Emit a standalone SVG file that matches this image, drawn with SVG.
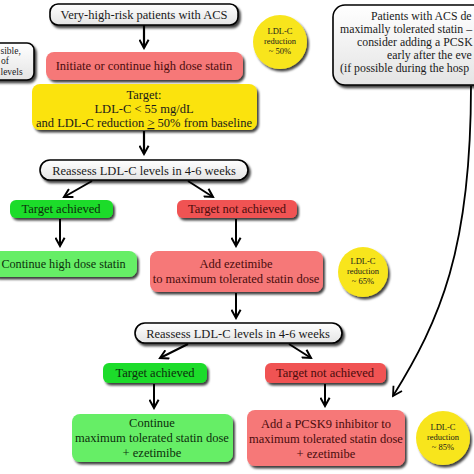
<svg xmlns="http://www.w3.org/2000/svg" width="474" height="474" viewBox="0 0 474 474">
<defs>
<filter id="sh" x="-10%" y="-20%" width="130%" height="160%">
<feDropShadow dx="2" dy="2.5" stdDeviation="1.2" flood-color="#000" flood-opacity="0.75"/>
</filter>
<linearGradient id="gray" x1="0" y1="0" x2="0" y2="1">
<stop offset="0" stop-color="#ffffff"/>
<stop offset="1" stop-color="#e4e4e4"/>
</linearGradient>
<marker id="ah" viewBox="0 0 12 12" refX="10" refY="6" markerWidth="11" markerHeight="11" orient="auto" markerUnits="userSpaceOnUse">
<path d="M1,1 L10,6 L1,11" fill="none" stroke="#000" stroke-width="2.2"/>
</marker>
<marker id="ah2" viewBox="0 0 12 12" refX="10" refY="6" markerWidth="12" markerHeight="12" orient="auto" markerUnits="userSpaceOnUse">
<path d="M1,1 L10,6 L1,11" fill="none" stroke="#000" stroke-width="1.8"/>
</marker>
</defs>
<style>
text{font-family:"Liberation Serif","Times New Roman",serif;font-size:12.5px;text-anchor:middle;fill:#1a1a1a}
.g{fill:url(#gray);stroke:#000;stroke-width:1.6;filter:url(#sh)}
.r{fill:#f67878;filter:url(#sh)}
.rs{fill:#f05252;filter:url(#sh)}
.gs{fill:#1fdc2a;filter:url(#sh)}
.gl{fill:#66ee66;filter:url(#sh)}
.y{fill:#fbe30c;filter:url(#sh)}
.c{fill:#f8e51e;filter:url(#sh)}
.ct{font-size:8.5px}
.rt{fill:#4a0c0c}
.gt{fill:#0c2e0c}
.l{fill:none;stroke:#000;stroke-width:2}
.rb{font-size:11.8px;text-anchor:start}
.lb{font-size:9.5px;text-anchor:start}
</style>
<g id="connectors">
<line class="l" x1="144" y1="25" x2="144" y2="48" marker-end="url(#ah)" style="stroke-width:2.2"/>
<line class="l" x1="144" y1="131" x2="144" y2="154" marker-end="url(#ah)" style="stroke-width:2.2"/>
<line class="l" x1="92" y1="181" x2="64" y2="197" marker-end="url(#ah)"/>
<line class="l" x1="188" y1="181" x2="213" y2="197" marker-end="url(#ah)"/>
<line class="l" x1="60" y1="219" x2="60" y2="246" marker-end="url(#ah)"/>
<line class="l" x1="236" y1="219" x2="236" y2="246" marker-end="url(#ah)"/>
<line class="l" x1="236" y1="293" x2="236" y2="318" marker-end="url(#ah)"/>
<line class="l" x1="188" y1="344" x2="160" y2="358" marker-end="url(#ah)"/>
<line class="l" x1="289" y1="344" x2="311" y2="358" marker-end="url(#ah)"/>
<line class="l" x1="154" y1="384" x2="154" y2="408" marker-end="url(#ah)"/>
<line class="l" x1="325" y1="384" x2="325" y2="406" marker-end="url(#ah)"/>
<path class="l" d="M471,86 C471,250 440,320 393,396" style="stroke-width:1.8" marker-end="url(#ah2)"/>
</g>
<g id="n-left">
<rect class="g" x="-20" y="43" width="54" height="37" rx="7"/>
<text class="lb" x="0.5" y="54">sible,</text>
<text class="lb" x="1" y="64">of</text>
<text class="lb" x="0.5" y="75">levels</text>
</g>
<g id="n-top">
<rect class="g" x="50" y="4" width="188" height="21" rx="8"/>
<text x="144" y="19">Very-high-risk patients with ACS</text>
</g>
<g id="n-statin">
<rect class="r" x="46" y="52" width="197" height="28" rx="8"/>
<text class="rt" x="144" y="70">Initiate or continue high dose statin</text>
</g>
<g id="c1">
<circle class="c" cx="280" cy="42" r="27"/>
<text class="ct" x="280" y="34">LDL-C</text>
<text class="ct" x="280" y="44">reduction</text>
<text class="ct" x="280" y="54">~ 50%</text>
</g>
<g id="n-right">
<rect class="g" x="333" y="5" width="170" height="80" rx="12"/>
<text class="rb" x="371" y="20">Patients with ACS de</text>
<text class="rb" x="340" y="33">maximally tolerated statin –</text>
<text class="rb" x="357" y="46">consider adding a PCSK</text>
<text class="rb" x="387" y="59">early after the eve</text>
<text class="rb" x="340" y="72">(if possible during the hosp</text>
</g>
<g id="n-target">
<rect class="y" x="32" y="84" width="225" height="46" rx="8"/>
<text x="144" y="99">Target:</text>
<text x="144" y="113">LDL-C &lt; 55 mg/dL</text>
<text x="144" y="127">and LDL-C reduction <tspan text-decoration="underline">&gt;</tspan> 50% from baseline</text>
</g>
<g id="n-reassess1">
<rect class="g" x="40" y="160" width="208" height="20" rx="10"/>
<text x="144" y="175">Reassess LDL-C levels in 4-6 weeks</text>
</g>
<g id="n-ach1">
<rect class="gs" x="10" y="200" width="103" height="18" rx="6"/>
<text class="gt" x="61" y="213">Target achieved</text>
</g>
<g id="n-nach1">
<rect class="rs" x="177" y="200" width="120" height="18" rx="6"/>
<text class="rt" x="237" y="213">Target not achieved</text>
</g>
<g id="n-cont1">
<rect class="gl" x="-10" y="251" width="147" height="26" rx="8"/>
<text class="gt" x="63.5" y="268" style="font-size:12.2px">Continue high dose statin</text>
</g>
<g id="n-eze">
<rect class="r" x="150" y="251" width="173" height="41" rx="8"/>
<text class="rt" x="236" y="268">Add ezetimibe</text>
<text class="rt" x="236" y="283">to maximum tolerated statin dose</text>
</g>
<g id="c2">
<circle class="c" cx="363" cy="272" r="25"/>
<text class="ct" x="363" y="264">LDL-C</text>
<text class="ct" x="363" y="274">reduction</text>
<text class="ct" x="363" y="284">~ 65%</text>
</g>
<g id="n-reassess2">
<rect class="g" x="135" y="323" width="207" height="20" rx="10"/>
<text x="238" y="338">Reassess LDL-C levels in 4-6 weeks</text>
</g>
<g id="n-ach2">
<rect class="gs" x="103" y="363" width="104" height="20" rx="6"/>
<text class="gt" x="155" y="377">Target achieved</text>
</g>
<g id="n-nach2">
<rect class="rs" x="265" y="363" width="121" height="20" rx="6"/>
<text class="rt" x="325" y="377">Target not achieved</text>
</g>
<g id="n-cont2">
<rect class="gl" x="72" y="414" width="161" height="48" rx="8"/>
<text class="gt" x="152" y="427">Continue</text>
<text class="gt" x="152" y="442">maximum tolerated statin dose</text>
<text class="gt" x="152" y="457">+ ezetimibe</text>
</g>
<g id="n-pcsk9">
<rect class="r" x="247" y="410" width="158" height="56" rx="8"/>
<text class="rt" x="326" y="428">Add a PCSK9 inhibitor to</text>
<text class="rt" x="326" y="443">maximum tolerated statin dose</text>
<text class="rt" x="326" y="458">+ ezetimibe</text>
</g>
<g id="c3">
<circle class="c" cx="443" cy="438" r="27"/>
<text class="ct" x="443" y="430">LDL-C</text>
<text class="ct" x="443" y="440">reduction</text>
<text class="ct" x="443" y="450">~ 85%</text>
</g>
</svg>
